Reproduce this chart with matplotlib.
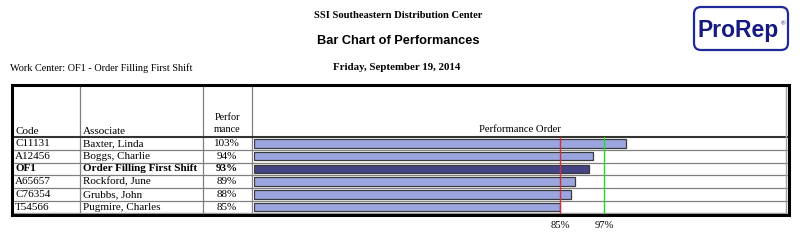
import matplotlib
matplotlib.use("Agg")
import matplotlib.pyplot as plt
from matplotlib.patches import FancyBboxPatch, Rectangle

codes = ["C11131", "A12456", "OF1", "A65657", "C76354", "T54566"]
associates = ["Baxter, Linda", "Boggs, Charlie", "Order Filling First Shift",
              "Rockford, June", "Grubbs, John", "Pugmire, Charles"]
performance = [103, 94, 93, 89, 88, 85]
is_summary = [False, False, True, False, False, False]
low_target = 85
high_target = 97
x_min, x_max = 1, 148

W, H = 800, 241
fig = plt.figure(figsize=(W / 100, H / 100), dpi=100)
fig.patch.set_facecolor("white")

ov = fig.add_axes([0, 0, 1, 1])
ov.set_xlim(0, W)
ov.set_ylim(H, 0)
ov.axis("off")

serif = "Liberation Serif"
sans = "Liberation Sans"

# titles
ov.text(398, 15, "SSI Southeastern Distribution Center", family=serif, weight="bold",
        fontsize=7.6, ha="center", va="center")
ov.text(398, 41, "Bar Chart of Performances", family=sans, weight="bold",
        fontsize=9.2, ha="center", va="center")
ov.text(10, 68, "Work Center: OF1 - Order Filling First Shift", family=serif,
        fontsize=7.4, ha="left", va="center")
ov.text(397, 68, "Friday, September 19, 2014", family=serif, weight="bold",
        fontsize=7.8, ha="center", va="center")

# logo
logo = FancyBboxPatch((694, 7), 94, 43, boxstyle="round,pad=0,rounding_size=7",
                      fc="white", ec="#1f2a9a", lw=1.6)
ov.add_patch(logo)
ov.text(738, 30, "ProRep", family=sans, weight="bold", fontsize=16.5,
        color="#161a80", ha="center", va="center")
ov.text(783, 24, "®", family=sans, fontsize=4.5, color="#161a80",
        ha="center", va="center")

# table geometry
left, right, top, bottom = 11.5, 788.5, 84.5, 215
hdr = 137
col1, col2, col3 = 80, 203, 252
n = len(codes)
row_h = (bottom - 1.5 - hdr) / n

for x in (col1, col2, col3):
    ov.plot([x, x], [top, bottom], color="#808080", lw=0.9, zorder=2)
for i in range(1, n):
    y = hdr + i * row_h
    ov.plot([left, right], [y, y], color="#808080", lw=0.9, zorder=2)
ov.plot([left, right], [hdr, hdr], color="#333333", lw=1.5, zorder=3)

# inner shadow lines (right and bottom)
ov.plot([right - 2.5, right - 2.5], [top + 2, bottom - 2.5], color="#a0a0a0", lw=1.0, zorder=3)
ov.plot([left + 2, right - 2.5], [bottom - 2.5, bottom - 2.5], color="#a0a0a0", lw=1.0, zorder=3)
ov.add_patch(Rectangle((left, top), right - left, bottom - top,
                       fill=False, ec="black", lw=2.2, zorder=4))

# header text
fs = 8.0
ov.text(15, 131, "Code", family=serif, fontsize=fs, ha="left", va="center")
ov.text(83, 131, "Associate", family=serif, fontsize=fs, ha="left", va="center")
ov.text(227, 118, "Perfor", family=serif, fontsize=7.4, ha="center", va="center")
ov.text(227, 130, "mance", family=serif, fontsize=7.4, ha="center", va="center")
ov.text(520, 130, "Performance Order", family=serif, fontsize=7.7,
        ha="center", va="center")

for i in range(n):
    yc = hdr + (i + 0.5) * row_h
    w = "bold" if is_summary[i] else "normal"
    ov.text(15, yc, codes[i], family=serif, fontsize=fs, weight=w, ha="left", va="center")
    ov.text(83, yc, associates[i], family=serif, fontsize=fs, weight=w, ha="left", va="center")
    ov.text(227, yc, f"{performance[i]}%", family=serif, fontsize=fs, weight=w,
            ha="center", va="center")

# bar axes
bx0, bx1 = 253.5, 790
ax = fig.add_axes([bx0 / W, (H - bottom + 1.5) / H, (bx1 - bx0) / W, (bottom - 1.5 - hdr) / H])
ax.set_xlim(x_min, x_max)
ax.set_ylim(n - 0.5, -0.5)
ax.axis("off")
ax.patch.set_alpha(0)
colors = ["#434586" if s else "#9ba6e0" for s in is_summary]
ax.barh(range(n), [p - x_min for p in performance], left=x_min, height=0.68,
        color=colors, edgecolor="#3a3a3a", linewidth=0.9, zorder=2)
ax.axvline(low_target, color="#d0303a", lw=1.0, zorder=3)
ax.axvline(high_target, color="#22dd22", lw=1.0, zorder=3)
for v in (low_target, high_target):
    ax.annotate(f"{v}%", xy=(v, 0), xycoords=("data", "axes fraction"),
                xytext=(0, -8.5), textcoords="offset points", ha="center", va="center",
                family=serif, fontsize=7.7, annotation_clip=False)

fig.savefig("out.png", dpi=100, facecolor="white")
